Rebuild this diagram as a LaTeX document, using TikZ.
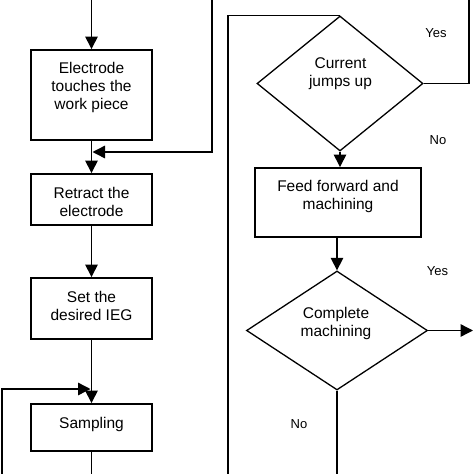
\documentclass[tikz,border=0pt]{standalone}
\usepackage{fontspec}
\setmainfont{Liberation Sans}
\usetikzlibrary{positioning,shapes.geometric,arrows.meta}

\tikzset{
    stepbox/.style = {draw, line width=1.9pt, minimum width=121pt, inner sep=0pt},
    decision/.style = {draw, diamond, line width=1.3pt, inner sep=0pt},
    boxtext/.style = {align=center, inner sep=0pt, font=\fontsize{15.5}{18}\selectfont},
    answer/.style = {inner sep=0pt, font=\fontsize{13}{15}\selectfont},
    wire/.style = {line width=1.4pt},
    flow/.style = {wire, -{Triangle[length=12.5pt,width=12.5pt]}},
}

\begin{document}
\begin{tikzpicture}[x=1pt,y=-1pt]
    \useasboundingbox (0,0) rectangle (474,474);
    % left column
    \node[stepbox, minimum height=90pt] (elec) at (91.5,95) {};
    \node[stepbox, minimum height=51pt] (retract) at (91.5,199.5) {};
    \node[stepbox, minimum height=61pt] (ieg) at (91.5,308.5) {};
    \node[stepbox, minimum height=47pt] (sampling) at (91.5,427.5) {};
    \node[boxtext] (elec-t) at (91.5,87) {Electrode\\touches the\\work piece};
    \node[boxtext] (retract-t) at (91.5,202) {Retract the\\electrode};
    \node[boxtext] (ieg-t) at (91.5,306) {Set the\\desired IEG};
    \node[boxtext] (sampling-t) at (91.5,424) {Sampling};
    % right column
    \node[decision, minimum width=166pt, minimum height=135pt] (jump) at (340,83.5) {};
    \node[stepbox, minimum width=166pt, minimum height=69pt] (feed) at (338,202.5) {};
    \node[decision, minimum width=181pt, minimum height=119pt] (complete) at (337,330.5) {};
    \node[boxtext] (jump-t) at (340.5,73.5) {Current\\jumps up};
    \node[boxtext] (feed-t) at (338,196.5) {Feed forward and\\machining};
    \node[boxtext] (complete-t) at (336,323) {Complete\\machining};
    \node[answer] (yes1) at (436,33) {Yes};
    \node[answer] (no1) at (438,140) {No};
    \node[answer] (yes2) at (437.5,271) {Yes};
    \node[answer] (no2) at (299,424) {No};
    % loose ends
    \coordinate (in-top) at (91.5,0);
    \coordinate (back-top) at (212,0);
    \coordinate (back-in) at (92.5,152);
    \coordinate (loop-bot) at (2,474);
    \coordinate (loop-in) at (90.5,389);
    \coordinate (out-bot) at (91.5,474);
    \coordinate (rise-bot) at (228,474);
    \coordinate (yes-top) at (469,0);
    \coordinate (done) at (473,330.5);
    \coordinate (again-bot) at (337,474);
    % connectors
    \draw[flow] (in-top) -- (elec);
    \draw[flow] (elec) -- (retract);
    \draw[flow] (back-top) |- (back-in);
    \draw[flow] (retract) -- (ieg);
    \draw[flow] (ieg) -- (sampling);
    \draw[flow] (loop-bot) |- (loop-in);
    \draw[wire] (sampling) -- (out-bot);
    \draw[wire] (rise-bot) |- (jump.north);
    \draw[wire] (jump.east) -| (yes-top);
    \draw[flow] (jump.south) -- (jump.south |- feed.north);
    \draw[flow] (complete.north |- feed.south) -- (complete.north);
    \draw[flow] (complete.east) -- (done);
    \draw[wire] (complete.south) -- (again-bot);
\end{tikzpicture}
\end{document}
